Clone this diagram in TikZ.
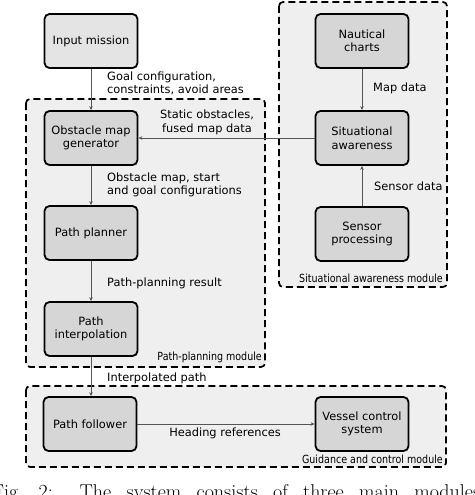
\documentclass[tikz,border=0pt]{standalone}
\usepackage{fontspec}
\usepackage{xcolor}
\usetikzlibrary{arrows.meta}

\newfontfamily\boxfont{DejaVu Sans}
\newfontfamily\condfont[FakeStretch=0.85]{DejaVu Sans}

\definecolor{boxgray}{HTML}{D6D6D6}
\definecolor{inputgray}{HTML}{E4E4E4}
\definecolor{modgray}{HTML}{EFEFEF}
\definecolor{linegray}{HTML}{555555}

\tikzset{
  block/.style={draw, line width=1.8pt, rounded corners=5pt, fill=boxgray,
    minimum width=93pt, minimum height=54pt, align=center,
    font=\boxfont\fontsize{11.4}{13.5}\selectfont},
  module/.style={draw, line width=1.7pt, dash pattern=on 7pt off 4pt,
    rounded corners=4pt, fill=modgray},
  flow/.style={draw=linegray, line width=1pt, -{Stealth[length=4pt,width=3.5pt]}},
  lbl/.style={font=\boxfont\fontsize{11.4}{13.5}\selectfont, align=left, inner sep=0pt},
  modlbl/.style={font=\condfont\fontsize{11.2}{13}\selectfont, inner sep=0pt, anchor=east},
}

\begin{document}
\begin{tikzpicture}[x=1pt, y=-1pt]
    \useasboundingbox (0,0) rectangle (474,495);

    % Modules
    \path[module] (26,99) rectangle (265,367);
    \path[module] (279,2) rectangle (447,287);
    \path[module] (26,386) rectangle (446,467);
    \node[modlbl] (pathmodlbl) at (262,357) {Path-planning module};
    \node[modlbl] (sitmodlbl) at (443,278) {Situational awareness module};
    \node[modlbl] (guidmodlbl) at (443,459) {Guidance and control module};

    % Blocks
    \node[block, fill=inputgray] (input) at (91,41) {Input mission};
    \node[block] (obsmap) at (91,138) {Obstacle map\\generator};
    \node[block] (planner) at (91,233) {Path planner};
    \node[block] (interp) at (91,329) {Path\\interpolation};
    \node[block] (follower) at (90,424) {Path follower};
    \node[block] (vessel) at (362,424) {Vessel control\\system};
    \node[block] (charts) at (362,41) {Nautical\\charts};
    \node[block] (sitaw) at (362,138) {Situational\\awareness};
    \node[block] (sensor) at (362,234) {Sensor\\processing};

    % Edges
    \draw[flow] (input) -- (obsmap);
    \draw[flow] (sitaw) -- (obsmap);
    \draw[flow] (obsmap) -- (planner);
    \draw[flow] (planner) -- (interp);
    \draw[flow] (interp) -- (interp |- follower.north);
    \draw[flow] (follower) -- (vessel);
    \draw[flow] (charts) -- (sitaw);
    \draw[flow] (sensor) -- (sitaw);

    % Edge labels
    \node[lbl, anchor=west] (goallbl) at (107,83.5) {Goal configuration,\\constraints, avoid areas};
    \node[lbl, align=center] (staticlbl) at (207,122.5) {Static obstacles,\\fused map data};
    \node[lbl, anchor=west] (startlbl) at (107,185) {Obstacle map, start\\and goal configurations};
    \node[lbl, anchor=west] (resultlbl) at (107,283) {Path-planning result};
    \node[lbl, anchor=west] (interplbl) at (107,378) {Interpolated path};
    \node[lbl] (headlbl) at (225,433) {Heading references};
    \node[lbl, anchor=west] (maplbl) at (373,88) {Map data};
    \node[lbl, anchor=west] (sensorlbl) at (374,186) {Sensor data};

    % Caption (cut by the page edge)
    \node[anchor=base west, inner sep=0pt, font=\fontsize{20}{22}\selectfont] (caption) at (-8,498)
        {\makebox[488pt][s]{Fig.\ 2: The system consists of three main modules}};

\end{tikzpicture}
\end{document}
